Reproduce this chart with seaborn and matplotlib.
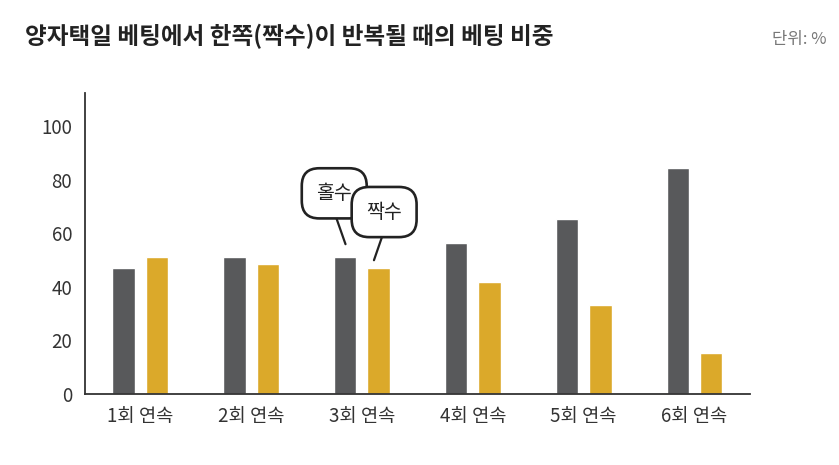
import pandas as pd
import matplotlib.pyplot as plt
import seaborn as sns

# --- data ---
categories = ['1회 연속', '2회 연속', '3회 연속', '4회 연속', '5회 연속', '6회 연속']
odd_values = [47, 51, 51, 56.5, 65.5, 84.5]    # 홀수
even_values = [51, 48.5, 47, 41.8, 33.2, 15.3]  # 짝수
y_ticks = [0, 20, 40, 60, 80, 100]

df = pd.DataFrame({
    'cat': categories * 2,
    'val': odd_values + even_values,
    'kind': ['홀수'] * 6 + ['짝수'] * 6,
})

sns.set_style("white")
plt.rcParams['font.family'] = ['Noto Sans CJK KR', 'DejaVu Sans']

fig = plt.figure(figsize=(8.39, 4.65), dpi=100)
ax = fig.add_axes([0.101, 0.153, 0.793, 0.648])

sns.barplot(data=df, x='cat', y='val', hue='kind', palette=['#58595b', '#dba92a'],
            width=0.6, gap=0.33, saturation=1, legend=False, ax=ax)

ax.set_ylim(0, 112.7)
ax.set_xlim(-0.5, 5.5)
ax.set_yticks(y_ticks)
ax.tick_params(axis='both', labelsize=13.5, colors='#333333', length=0, pad=9)
ax.set_xlabel('')
ax.set_ylabel('')
for s in ['top', 'right']:
    ax.spines[s].set_visible(False)
for s in ['left', 'bottom']:
    ax.spines[s].set_color('#333333')
    ax.spines[s].set_linewidth(1.3)

# speech bubbles
def bubble(text, xb, yb, xp, yp):
    ax.annotate('', xy=(xp, yp), xytext=(xb, yb - 7),
                arrowprops=dict(arrowstyle='-', color='#222222', lw=1.6))
    ax.text(xb, yb, text, ha='center', va='center', fontsize=14, color='#222222',
            bbox=dict(boxstyle='round,pad=0.75,rounding_size=0.9', fc='white',
                      ec='#222222', lw=1.9))

bubble('홀수', 1.75, 75, 1.86, 55)
bubble('짝수', 2.2, 68, 2.1, 49)

fig.text(0.03, 0.905, '양자택일 베팅에서 한쪽(짝수)이 반복될 때의 베팅 비중',
         fontsize=17, fontweight='bold', color='#222222')
fig.text(0.985, 0.905, '단위: %', fontsize=12, color='#777777', ha='right')

plt.savefig('out.png', dpi=100)
